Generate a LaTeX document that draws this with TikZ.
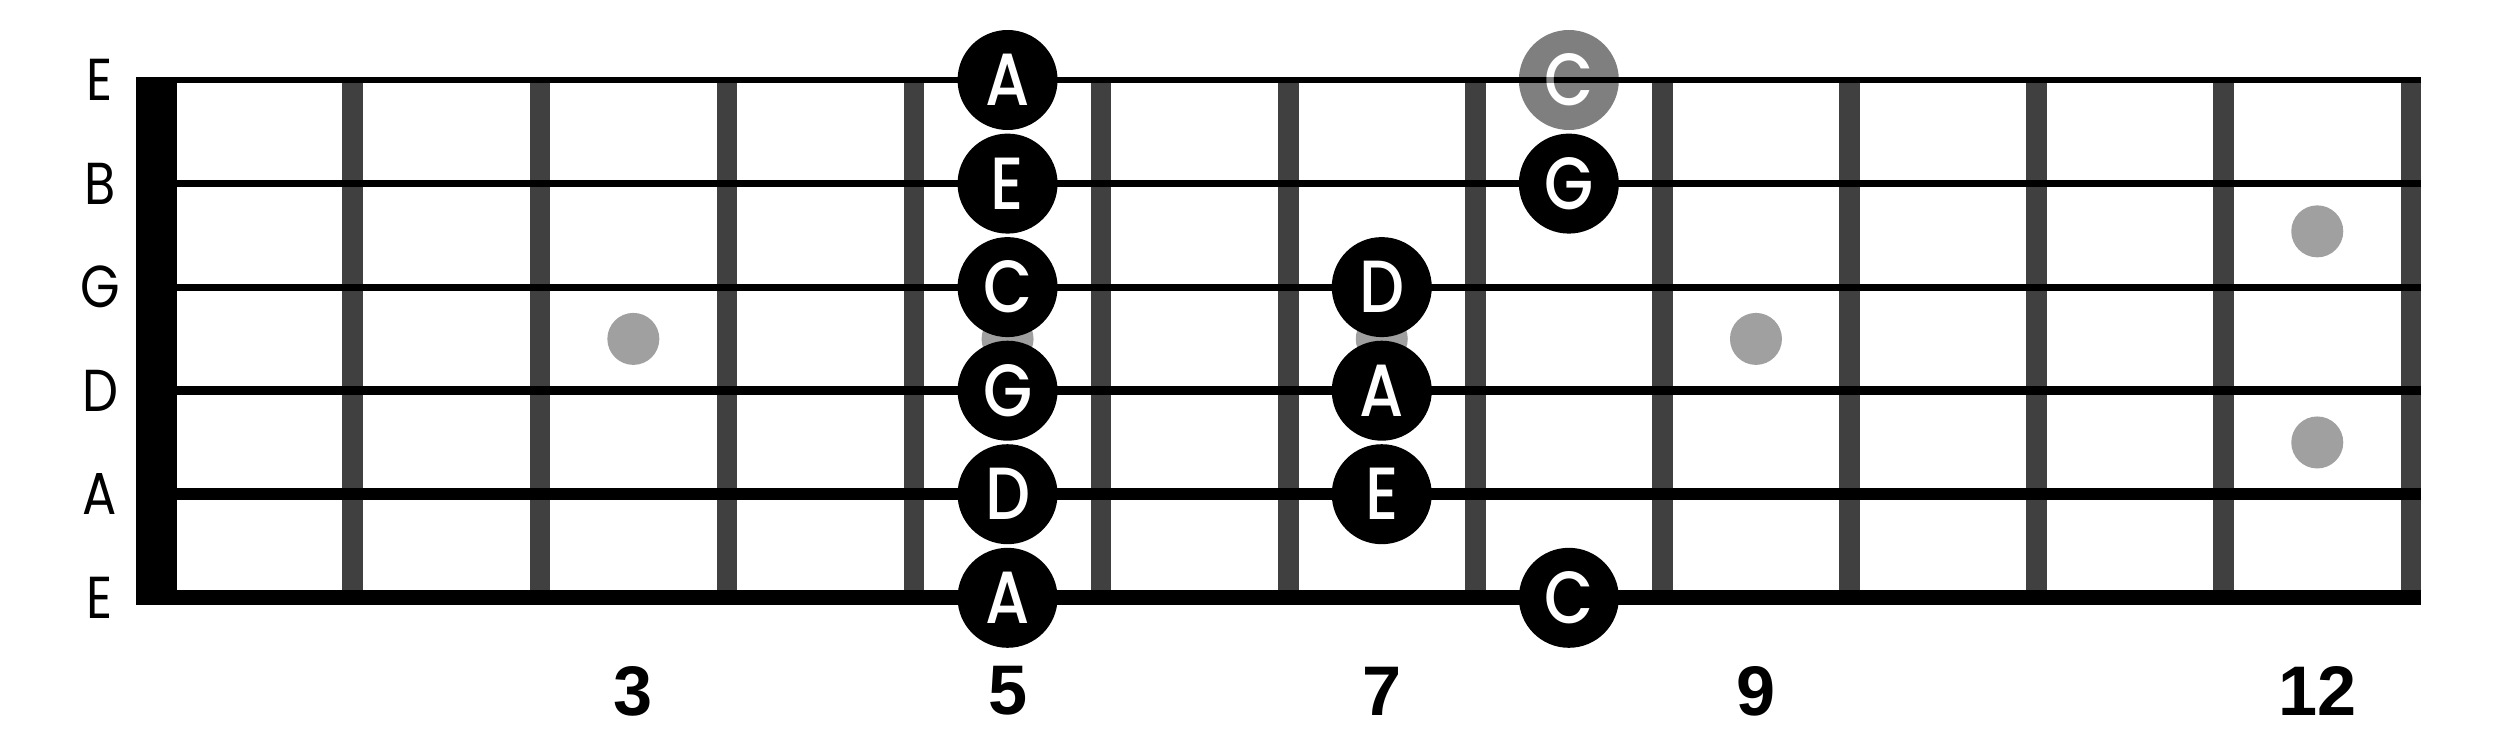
\documentclass[tikz,border=0pt]{standalone}
\usepackage{fontspec}
\setmainfont{Poppins}[FakeStretch=0.86]
\newfontfamily\notefont{Poppins Medium}[FakeStretch=0.86]
\newfontfamily\numfont{Liberation Sans}[BoldFont={Liberation Sans Bold}]
\definecolor{fretgray}{HTML}{404040}
\definecolor{dotgray}{HTML}{A0A0A0}
% select a font switch at the size that gives a chosen cap height (in pt)
\newcommand\capfont[2]{#1\fontsize{100pt}{100pt}\selectfont
  \edef\capht{\the\fontcharht\font`\E}%
  \pgfmathsetmacro\capsz{100*#2/\capht}%
  \fontsize{\capsz pt}{\capsz pt}\selectfont}
\begin{document}
\begin{tikzpicture}[x=1pt,y=-1pt,
  fretbar/.style={fill=fretgray},
  inlay/.style={fill=dotgray},
  note/.style={circle,fill=black,minimum size=100pt,inner sep=0pt,text=white,font=\capfont{\notefont}{51.5}},
  strlabel/.style={inner sep=0pt,font=\capfont{\rmfamily}{41.3}},
  fretnum/.style={inner sep=0pt,font=\capfont{\numfont\bfseries}{48.3}}]
\useasboundingbox (0,0) rectangle (2500,736);
% inlay dots
\foreach \x/\y in {633.35/338.9, 1007.55/338.9, 1381.75/338.9, 1755.95/338.9, 2317.25/231.35, 2317.25/442.45}
  \fill[inlay] (\x,\y) circle (26pt);
% frets
\foreach \k in {1,...,12}
  \fill[fretbar] ({352.7+(\k-1)*187.1-10.3},80) rectangle +(20.6,517.8);
% strings
\foreach \y/\w in {80/6.5, 183.6/6.5, 287.1/7, 390.7/9.5, 494.2/12, 597.8/15}
  \fill (136,{\y-\w/2}) rectangle (2421,{\y+\w/2});
% nut
\fill (135.7,77) rectangle (177.3,605.3);
% string labels
\node[strlabel] (lE1) at (100,80) {E};
\node[strlabel] (lB) at (100,183.6) {B};
\node[strlabel] (lG) at (100,287.1) {G};
\node[strlabel] (lD) at (100,390.7) {D};
\node[strlabel] (lA) at (100,494.2) {A};
\node[strlabel] (lE6) at (100,597.8) {E};
% notes fret 5
\node[note] (f5s1) at (1007.55,80) {A};
\node[note] (f5s2) at (1007.55,183.6) {E};
\node[note] (f5s3) at (1007.55,287.1) {C};
\node[note] (f5s4) at (1007.55,390.7) {G};
\node[note] (f5s5) at (1007.55,494.2) {D};
\node[note] (f5s6) at (1007.55,597.8) {A};
% notes fret 7
\node[note] (f7s3) at (1381.75,287.1) {D};
\node[note] (f7s4) at (1381.75,390.7) {A};
\node[note] (f7s5) at (1381.75,494.2) {E};
% notes fret 8
\begin{scope}[transparency group, opacity=0.5]
\node[note] (f8s1) at (1568.85,80) {C};
\end{scope}
\node[note] (f8s2) at (1568.85,183.6) {G};
\node[note] (f8s6) at (1568.85,597.8) {C};
% fret numbers
\node[fretnum] (n3) at (633.35,691) {3};
\node[fretnum] (n5) at (1007.55,691) {5};
\node[fretnum] (n7) at (1381.75,691) {7};
\node[fretnum] (n9) at (1755.95,691) {9};
\node[fretnum] (n12) at (2317.25,691) {12};
\end{tikzpicture}
\end{document}
